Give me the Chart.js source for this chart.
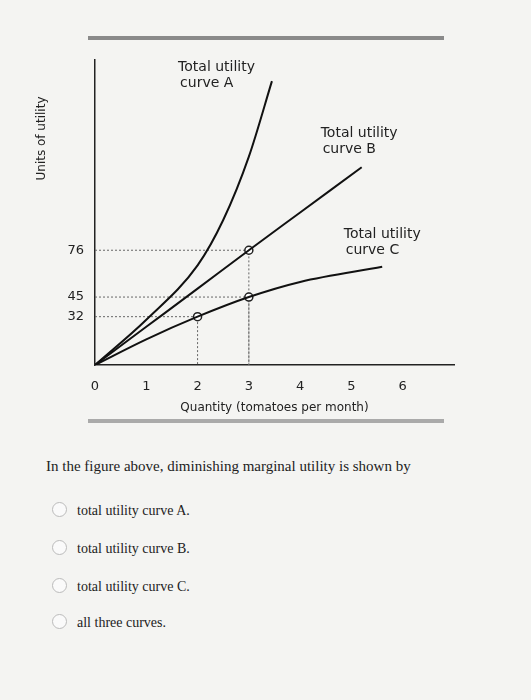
<!DOCTYPE html>
<html><head><meta charset="utf-8">
<script src="https://cdn.jsdelivr.net/npm/chart.js@4"></script>
<style>
body{margin:0;background:#f4f4f2;width:531px;height:700px;overflow:hidden;font-family:"Liberation Serif",serif;}
#wrap{position:absolute;left:0;top:0;width:531px;height:415px;}
.bar{position:absolute;left:88px;width:356px;height:4px;background:#8a8a8a;}
.q{position:absolute;left:46px;top:458px;font-size:15px;color:#222;}
.opt{position:absolute;left:52px;font-size:14px;color:#222;}
.opt span{display:inline-block;width:13px;height:13px;border:1px solid #bbb;border-radius:50%;margin-right:10px;vertical-align:-2px;background:#fafafa;}
</style></head><body>
<div class="bar" style="top:36px"></div>
<div id="wrap"><canvas id="c" width="531" height="415"></canvas></div>
<div class="bar" style="top:419px;background:#aaa"></div>
<div class="q">In the figure above, diminishing marginal utility is shown by</div>
<div class="opt" style="top:502px"><span></span>total utility curve A.</div>
<div class="opt" style="top:540px"><span></span>total utility curve B.</div>
<div class="opt" style="top:578px"><span></span>total utility curve C.</div>
<div class="opt" style="top:614px"><span></span>all three curves.</div>
<script>
const xTicks = [0, 1, 2, 3, 4, 5, 6];
const yTicks = [32, 45, 76];
const curveA = [[0,0],[1,30],[2,66],[2.5,96],[3,138],[3.45,188]];
const curveB = [[0,0],[1,25.3],[2,50.6],[3,76],[4,101],[5.2,131]];
const curveC = [[0,0],[1,17],[2,32],[3,45],[4,55],[5.6,65]];
const points = [[2,32],[3,45],[3,76]];

const pts = a => a.map(p => ({x: p[0], y: p[1]}));
const line = d => ({data: pts(d), showLine: true, borderColor: '#111', borderWidth: 2, pointRadius: 0, cubicInterpolationMode: 'monotone'});

const guides = {
    id: 'guides',
    beforeDatasetsDraw(chart) {
        const {ctx, scales: {x, y}} = chart;
        ctx.save();
        ctx.strokeStyle = '#666';
        ctx.lineWidth = 1;
        ctx.setLineDash([2, 2]);
        points.forEach(([px, py]) => {
            ctx.beginPath();
            ctx.moveTo(x.getPixelForValue(0), y.getPixelForValue(py));
            ctx.lineTo(x.getPixelForValue(px), y.getPixelForValue(py));
            ctx.lineTo(x.getPixelForValue(px), y.getPixelForValue(0));
            ctx.stroke();
        });
        ctx.restore();
    },
    afterDraw(chart) {
        const {ctx, scales: {x, y}} = chart;
        ctx.save();
        ctx.fillStyle = '#222';
        ctx.font = '14px "DejaVu Sans"';
        const lab = (t1, t2, vx, vy) => {
            ctx.fillText(t1, x.getPixelForValue(vx), y.getPixelForValue(vy));
            ctx.fillText(t2, x.getPixelForValue(vx) + 2, y.getPixelForValue(vy) + 16);
        };
        lab('Total utility', 'curve A', 1.62, 195);
        lab('Total utility', 'curve B', 4.4, 151);
        lab('Total utility', 'curve C', 4.85, 84);
        ctx.font = '12px "DejaVu Sans"';
        ctx.translate(45, y.getPixelForValue(150));
        ctx.rotate(-Math.PI / 2);
        ctx.textAlign = 'center';
        ctx.fillText('Units of utility', 0, 0);
        ctx.restore();
    }
};

new Chart(document.getElementById('c'), {
    type: 'scatter',
    data: {
        datasets: [line(curveA), line(curveB), line(curveC),
            {data: pts(points), pointRadius: 4, pointBackgroundColor: '#fff', pointBorderColor: '#222', pointBorderWidth: 1.5}]
    },
    options: {
        responsive: false,
        animation: false,
        layout: {padding: {top: 60, right: 77}},
        plugins: {legend: {display: false}, tooltip: {enabled: false}},
        scales: {
            x: {
                min: 0, max: 7,
                grid: {display: false, drawTicks: true},
                border: {color: '#222', width: 1.5},
                afterBuildTicks: s => { s.ticks = xTicks.map(v => ({value: v})); },
                afterFit: s => { s.height = 50; },
                ticks: {color: '#222', padding: 6, font: {family: 'DejaVu Sans', size: 13}},
                title: {display: true, text: 'Quantity (tomatoes per month)', color: '#222', font: {family: 'DejaVu Sans', size: 12}, padding: 0}
            },
            y: {
                min: 0, max: 202,
                grid: {display: false},
                border: {color: '#222', width: 1.5},
                afterBuildTicks: s => { s.ticks = yTicks.map(v => ({value: v})); },
                afterFit: s => { s.width = 95; },
                ticks: {color: '#222', font: {family: 'DejaVu Sans', size: 13}}
            }
        }
    },
    plugins: [guides]
});
</script>
</body></html>
